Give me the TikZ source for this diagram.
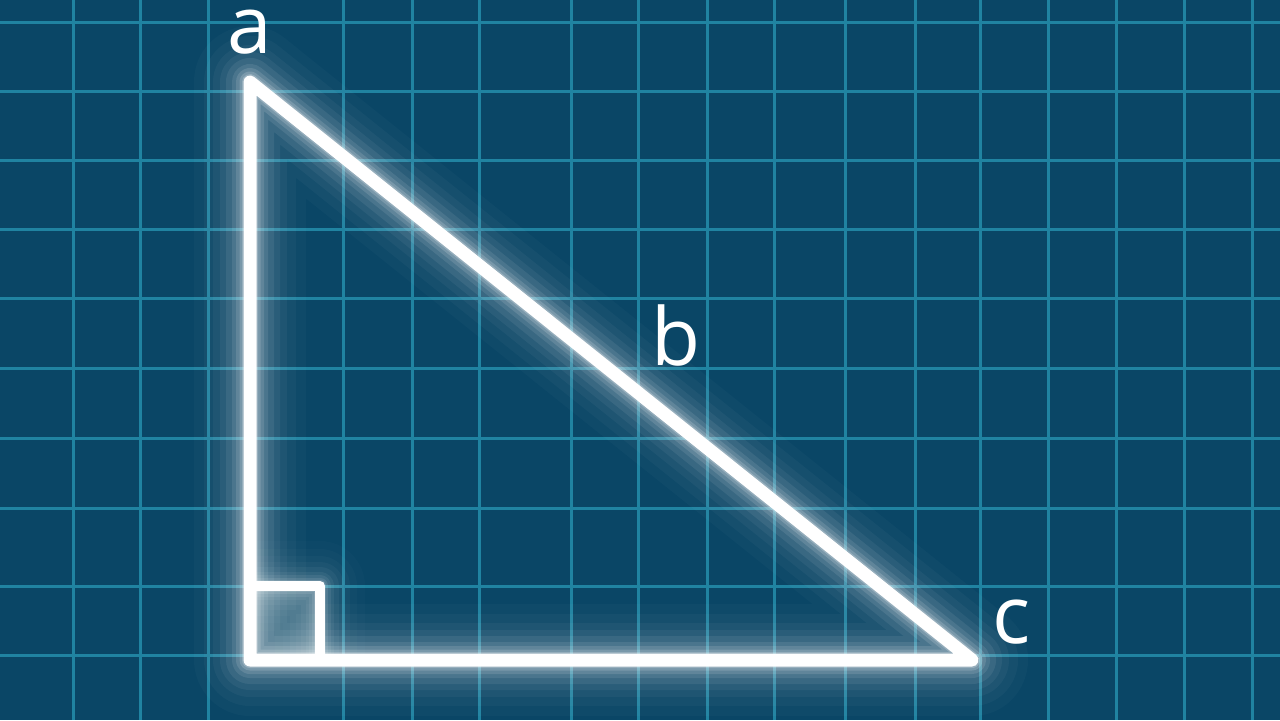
\documentclass[tikz,border=0pt]{standalone}
\usepackage{fontspec}
\setmainfont{Open Sans}
\begin{document}
\begin{tikzpicture}[x=0.5pt,y=-0.5pt,
  gridline/.style={draw=gridc, line width=1.5pt},
  edge/.style={draw=white, line width=6.5pt, line join=round, line cap=round},
  lbl/.style={text=white, font=\fontsize{40}{48}\selectfont, inner sep=0pt, anchor=base}]
\definecolor{bgc}{HTML}{0A4666}
\definecolor{gridc}{HTML}{2083A1}
\fill[bgc] (0,0) rectangle (1280,720);
\useasboundingbox (0,0) rectangle (1280,720);
% grid
\foreach \gx in {73,140,208,343,412,479,571,638,707,774,845,915,980,1048,1116,1184,1252}
  \draw[gridline] (\gx,0) -- (\gx,720);
\foreach \gy in {22,91,160,229,298,368,438,508,586,655}
  \draw[gridline] (0,\gy) -- (1280,\gy);
% vertices
\coordinate (A) at (250,82);
\coordinate (B) at (250,660);
\coordinate (C) at (972,660);
\coordinate (S1) at (250,586);
\coordinate (S2) at (320,586);
\coordinate (S3) at (320,660);
% inner glow fill of right-angle square
\fill[white, opacity=0.22] (B) -- (S1) -- (S2) -- (S3) -- cycle;
% glow
\foreach \w/\o in {56/0.025, 46/0.03, 37/0.04, 30/0.05, 24/0.07, 18/0.09, 14/0.12, 10.5/0.16, 8/0.22}{
  \draw[white, line width=\w pt, opacity=\o, line join=round, line cap=round] (A) -- (B) -- (C) -- cycle;
  \draw[white, line width=0.8*\w pt, opacity=0.6*\o, line join=round] (S1) -- (S2) -- (S3);
}
% lines
\draw[edge] (A) -- (B) -- (C) -- cycle;
\draw[edge, line width=5pt] (S1) -- (S2) -- (S3);
% labels
\node[lbl] (la) at (250,53) {a};
\node[lbl] (lb) at (676,365) {b};
\node[lbl] (lc) at (1012,643) {c};
\end{tikzpicture}
\end{document}
